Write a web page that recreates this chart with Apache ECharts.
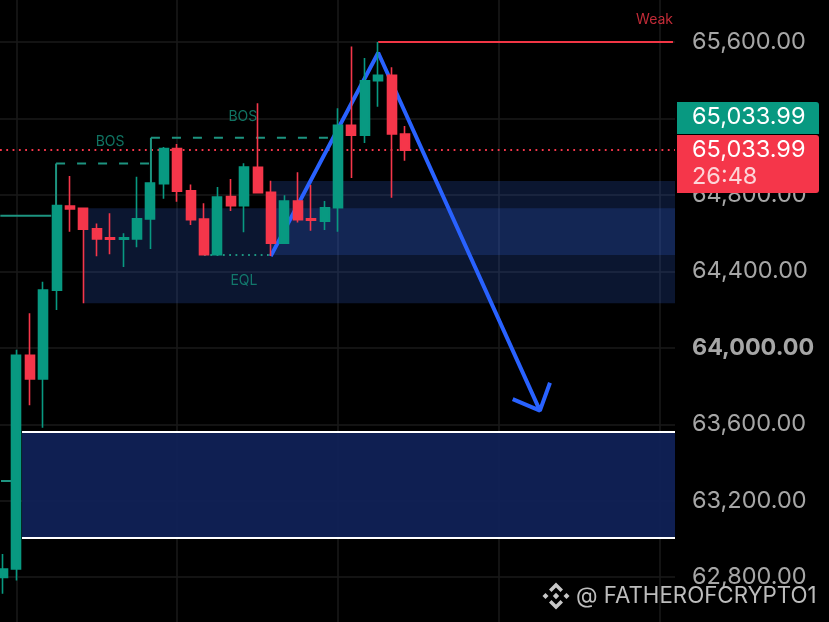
<!DOCTYPE html>
<html><head><meta charset="utf-8">
<style>html,body{margin:0;padding:0;background:#000}#c{width:829px;height:622px}</style>
<script src="https://cdn.jsdelivr.net/npm/echarts@6/dist/echarts.min.js"></script>
</head><body><div id="c"></div>
<script>
const opens  = [62799,62843,63961,63837,64302,64742,64730,64622,64575,64568,64569,64674,64859,65042,64822,64674,64487,64791,64744,64944,64814,64547,64768,64675,64662,64733,65164,65113,65397,65426,65119];
const closes = [62843,63961,63837,64302,64744,64726,64620,64569,64568,64575,64675,64862,65042,64820,64670,64487,64789,64744,64946,64812,64547,64768,64670,64667,64733,65164,65113,65397,65426,65119,65034];
const lows   = [62713,62782,63699,63582,64198,64607,64233,64479,64489,64423,64526,64517,64780,64764,64642,64487,64487,64716,64604,64812,64480,64547,64655,64613,64616,64607,64888,65072,65261,64785,64979];
const highs  = [62921,63990,64181,64346,64744,64899,64730,64651,64704,64599,64895,64862,65051,65066,64855,64756,64841,64883,64965,65279,64874,64798,64918,64852,64768,65253,65577,65516,65600,65468,65160];
const priceTicks = [62800,63200,63600,64000,64400,64800,65200,65600];
const timeGrid = [1,13,25,37,49];
const lastPrice = 65033.99;
const countdown = '26:48';
const zoneUpper = [5.98,50.15,64730,64233];
const zoneUpperB = [20,50.15,64873,64486];
const zoneTarget = [1.42,50.15,63560,63005];
const arrowPath = [[19.98,64480],[28,65544],[40.07,63671],[38.04,63731],[40.07,63671],[40.82,63817]];
const bosLeft = [[3.96,64744],[3.96,64964]];
const bosLeftDash = [[3.96,64964],[11.04,64964]];
const bosRight = [[11.04,64862],[11.04,65099]];
const bosRightDash = [[11.04,65099],[25,65099]];
const swingLeft = [[-0.2,64691],[3.6,64691]];
const swingStub = [[-0.15,63303],[0.6,63303]];
const eqlDots = [[15,64486],[20,64486]];
const weakLine = [[28,65600],[50,65600]];
const notes = [
  {t:'BOS',x:7.99,y:65078,c:'#14907a'},
  {t:'BOS',x:17.9,y:65209,c:'#14907a'},
  {t:'EQL',x:17.98,y:64350,c:'#14907a'}
];
const weakNote = {t:'Weak',x:50,y:65715};

const UP='#089981', DOWN='#f5364a', FONT='Inter, "Liberation Sans", sans-serif';
const chart = echarts.init(document.getElementById('c'),null,{renderer:'canvas'});
const seg=(name,data,color,width,type,z)=>({name,type:'line',data,showSymbol:false,symbol:'none',silent:true,z:z||3,
  lineStyle:{color,width,type:type||'solid',cap:'butt'},animation:false});
const area=(name,a,color,z)=>({name,type:'line',data:[],silent:true,z,animation:false,
  markArea:{silent:true,z,itemStyle:{color},data:[[{xAxis:a[0],yAxis:a[2]},{xAxis:a[1],yAxis:a[3]}]]}});
const zoneFill='rgba(44,92,200,0.24)';
const chev=(s)=>[[0,-13.5*s],[7,-6.5*s],[4.5,-4*s],[0,-8.5*s],[-4.5,-4*s],[-7,-6.5*s]];
const diam=(x,y,r)=>[[x,y-r],[x+r,y],[x,y+r],[x-r,y]];
const STRUCT='#1d9480';
chart.setOption({
  backgroundColor:'#000',animation:false,
  grid:{left:0,width:675,top:-34.45,height:688.05,containLabel:false,outerBoundsMode:'none'},
  xAxis:{type:'value',min:-0.224,max:50.15,show:false,splitLine:{show:false}},
  yAxis:{type:'value',position:'right',min:62400,max:66000,interval:400,
    axisLine:{show:false},axisTick:{show:false},
    splitLine:{lineStyle:{color:'#1a1a1a',width:1.5}},
    axisLabel:{show:true,margin:17,align:'left',color:'#a6a6a6',fontFamily:FONT,fontSize:23.5,
      formatter:v=>{
        if(!priceTicks.includes(v))return '';
        const s=v.toLocaleString('en-US',{minimumFractionDigits:2});
        return v===64000?'{b|'+s+'}':s;
      },
      rich:{b:{fontFamily:FONT,fontSize:23.3,fontWeight:'bold',color:'#a6a6a6'}}
    }},
  series:[
    {name:'timeGrid',type:'line',data:[],silent:true,z:1,
      markLine:{silent:true,symbol:'none',z:1,label:{show:false},animation:false,
        lineStyle:{color:'#1a1a1a',width:1.5,type:'solid'},data:timeGrid.map(x=>({xAxis:x}))}},
    area('zoneA',zoneUpper,zoneFill,2),
    area('zoneB',zoneUpperB,zoneFill,2),
    area('target',zoneTarget,'rgba(16,33,86,0.95)',2),
    seg('targetTop',[[zoneTarget[0],zoneTarget[2]],[zoneTarget[1],zoneTarget[2]]],'#fff',2),
    seg('targetBottom',[[zoneTarget[0],zoneTarget[3]],[zoneTarget[1],zoneTarget[3]]],'#fff',2),
    {name:'lastPriceLine',type:'line',data:[],silent:true,z:3,
      markLine:{silent:true,symbol:'none',z:3,label:{show:false},animation:false,
        lineStyle:{color:DOWN,width:2,type:[1.8,4.5]},data:[{yAxis:lastPrice}]}},
    seg('arrow',arrowPath,'#2962ff',4,null,4),
    seg('swingLeft',swingLeft,STRUCT,2),
    seg('swingStub',swingStub,STRUCT,2),
    seg('bos1v',bosLeft,STRUCT,2),
    seg('bos1h',bosLeftDash,STRUCT,2,[9,12]),
    seg('bos2v',bosRight,STRUCT,2),
    seg('bos2h',bosRightDash,STRUCT,2,[9,12]),
    seg('eql',eqlDots,STRUCT,2,[1.8,4.5]),
    seg('weak',weakLine,'#f23645',2),
    {name:'candles',type:'candlestick',z:6,barWidth:9.6,animation:false,
      data:opens.map((o,i)=>[i,o,closes[i],lows[i],highs[i]]),
      encode:{x:0,y:[1,2,3,4]},
      itemStyle:{color:UP,color0:DOWN,borderColor:UP,borderColor0:DOWN,borderWidth:1.6}},
    {name:'notes',type:'scatter',symbolSize:0,z:7,silent:true,
      data:notes.map(n=>({value:[n.x,n.y],label:{color:n.c,formatter:n.t}})),
      label:{show:true,position:'inside',fontFamily:FONT,fontSize:14}},
    {name:'weak',type:'scatter',symbolSize:0,z:7,silent:true,
      data:[{value:[weakNote.x,weakNote.y],label:{formatter:weakNote.t}}],
      label:{show:true,position:'left',distance:0,color:'#f23645',fontFamily:FONT,fontSize:14}}
  ],
  graphic:[
    {type:'rect',z:100,shape:{x:677,y:102,width:142,height:32,r:[0,3,0,0]},style:{fill:UP}},
    {type:'rect',z:100,shape:{x:677,y:135,width:142,height:58,r:[0,3,3,0]},style:{fill:DOWN}},
    {type:'text',z:101,x:692,y:117,style:{text:lastPrice.toLocaleString('en-US'),fill:'#fff',font:'23.5px '+FONT,textVerticalAlign:'middle'}},
    {type:'text',z:101,x:692,y:150,style:{text:lastPrice.toLocaleString('en-US'),fill:'#fff',font:'23.5px '+FONT,textVerticalAlign:'middle'}},
    {type:'text',z:101,x:692,y:177,style:{text:countdown,fill:'#fcd5d8',font:'23.5px '+FONT,textVerticalAlign:'middle'}},
    {type:'text',z:101,x:576,y:596,style:{text:'@ FATHEROFCRYPTO1',fill:'#bdbdbd',font:'22.3px '+FONT,textVerticalAlign:'middle'}},
    {type:'group',z:101,x:556,y:596,children:[chev(1),chev(-1),diam(-10.5,0,3),diam(10.5,0,3),diam(0,0,3.2)]
      .map(p=>({type:'polygon',z:101,shape:{points:p},style:{fill:'#c8c8c8'}}))}
  ]
});
</script></body></html>
